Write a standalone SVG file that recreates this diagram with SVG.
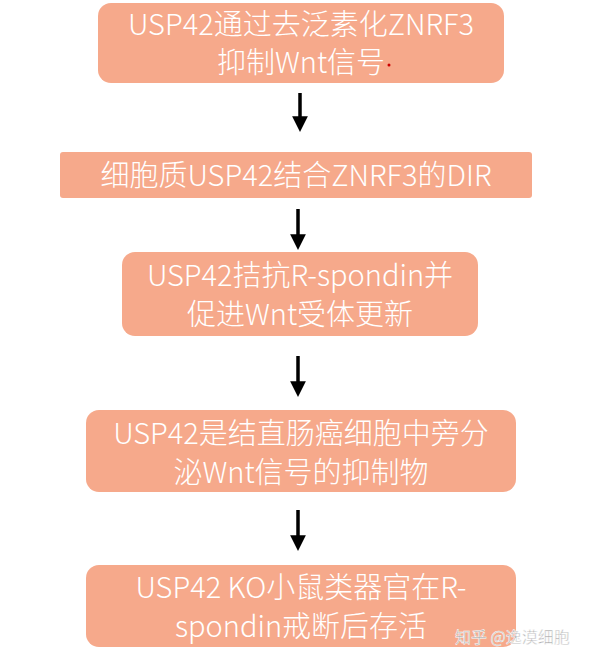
<svg xmlns="http://www.w3.org/2000/svg" width="600" height="664" viewBox="0 0 600 664">
<style>
.b{fill:#F6A98B}
.t{fill:#fff;font-family:"Noto Sans CJK SC","Noto Sans",sans-serif;font-size:29px;font-weight:300;text-anchor:middle}
.a{stroke:#000;stroke-width:3.5}
</style>
<defs><marker id="m" viewBox="0 0 10 10" refX="5" refY="5" markerWidth="4.5" markerHeight="4.5" orient="auto"><path d="M0,0L10,5L0,10z" fill="#000"/></marker></defs>
<rect width="600" height="664" fill="#fff"/>
<g id="n1"><rect class="b" x="98" y="3" width="406" height="80" rx="13"/><text class="t" x="301" y="35">USP42通过去泛素化ZNRF3</text><text class="t" x="301" y="73">抑制Wnt信号</text><circle cx="389" cy="65" r="1.5" fill="#c00"/></g>
<g id="n2"><rect class="b" x="60" y="152" width="472" height="46" rx="3"/><text class="t" x="296" y="186">细胞质USP42结合ZNRF3的DIR</text></g>
<g id="n3"><rect class="b" x="122" y="252" width="356" height="84" rx="13"/><text class="t" x="300" y="286">USP42拮抗R-spondin并</text><text class="t" x="300" y="325">促进Wnt受体更新</text></g>
<g id="n4"><rect class="b" x="86" y="410" width="430" height="82" rx="13"/><text class="t" x="301" y="444">USP42是结直肠癌细胞中旁分</text><text class="t" x="301" y="483">泌Wnt信号的抑制物</text></g>
<g id="n5"><rect class="b" x="86" y="565" width="430" height="82" rx="13"/><text class="t" x="301" y="598">USP42 KO小鼠类器官在R-</text><text class="t" x="301" y="637">spondin戒断后存活</text></g>
<g id="connectors">
<line class="a" x1="300" y1="93" x2="300" y2="124" marker-end="url(#m)"/>
<line class="a" x1="298" y1="209" x2="298" y2="242" marker-end="url(#m)"/>
<line class="a" x1="298" y1="356" x2="298" y2="389" marker-end="url(#m)"/>
<line class="a" x1="298" y1="510" x2="298" y2="543" marker-end="url(#m)"/>
</g>
<text x="455" y="643" font-family="Noto Sans CJK SC,sans-serif" font-size="16" fill="#aaa" stroke="#fff" stroke-width="0.5">知乎 @逸漠细胞</text>
</svg>
